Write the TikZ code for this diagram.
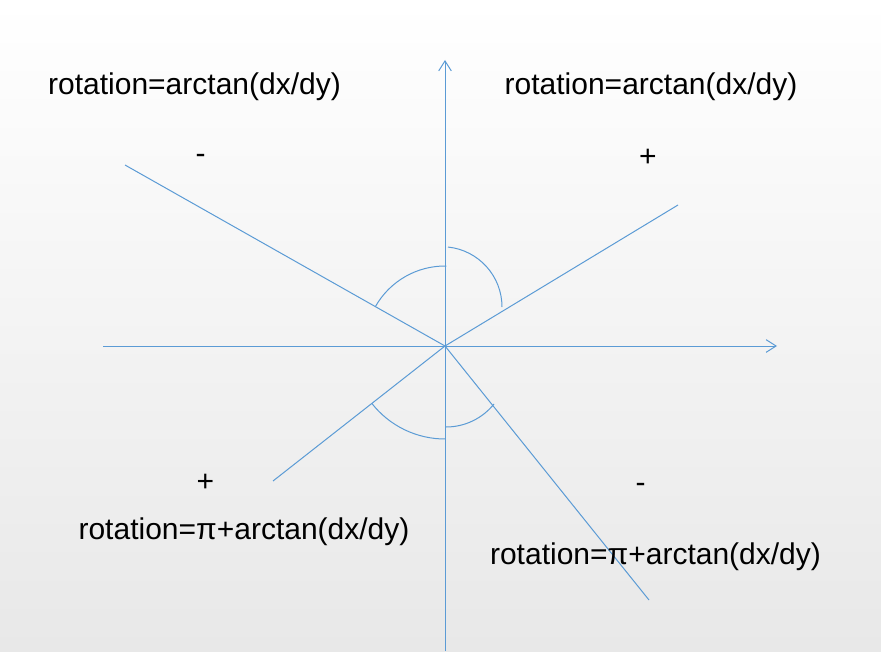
\documentclass[tikz,border=0pt]{standalone}
\usepackage{fontspec}
\setmainfont{Liberation Sans}
\usetikzlibrary{arrows.meta}
\definecolor{axisblue}{RGB}{91,155,213}
\definecolor{bggray}{RGB}{232,232,232}
\definecolor{bgtop}{RGB}{255,255,255}
\tikzset{
  axisline/.style={draw=axisblue, line width=0.75pt},
  axisarrow/.style={axisline, -{Straight Barb[length=7.5pt, width=9.5pt, line width=0.75pt]}},
  anglearc/.style={draw=axisblue, line width=0.75pt},
  formula/.style={anchor=base, inner sep=0pt, font=\fontsize{22.5}{27}\selectfont, text=black},
  sign/.style={anchor=base, inner sep=0pt, font=\fontsize{22.5}{27}\selectfont, text=black}
}
\begin{document}
\begin{tikzpicture}[x=0.75pt, y=0.75pt]
  \shade[top color=bgtop, bottom color=bggray] (0,0) rectangle (881,651);
  \useasboundingbox (0,0) rectangle (881,651);

  % coordinates
  \coordinate (O) at (445,305);
  \coordinate (H1) at (103,305);
  \coordinate (H2) at (777,305);
  \coordinate (V1) at (445,0);
  \coordinate (V2) at (445,591);
  \coordinate (A) at (125,486);
  \coordinate (B) at (678,446);
  \coordinate (C) at (273,170);
  \coordinate (D) at (649,51);

  % axes
  \draw[axisarrow] (H1) -- (H2);
  \draw[axisarrow] (V1) -- (V2);

  % lines through origin
  \draw[axisline] (A) -- (O);
  \draw[axisline] (O) -- (B);
  \draw[axisline] (C) -- (O);
  \draw[axisline] (O) -- (D);

  % angle arcs
  \draw[anglearc] (O) ++(150.5:80) arc[start angle=150.5, end angle=89, radius=80];
  \coordinate (URc) at (441.7,344);
  \draw[anglearc] (URc) ++(84:60.3) arc[start angle=84, end angle=0, radius=60.3];
  \draw[anglearc] (O) ++(218.1:93) arc[start angle=218.1, end angle=270.5, radius=93];
  \coordinate (LRc) at (446,285.6);
  \draw[anglearc] (LRc) ++(270:61.6) arc[start angle=270, end angle=321.2, radius=61.6];

  % formulas
  \node[formula] (tUL) at (194.5,556.5) {rotation=arctan(dx/dy)};
  \node[formula] (tUR) at (651,556.5) {rotation=arctan(dx/dy)};
  \node[formula] (tLL) at (244,112) {rotation=π+arctan(dx/dy)};
  \node[formula] (tLR) at (655.5,87) {rotation=π+arctan(dx/dy)};

  % signs
  \node[sign] (sUL) at (200.5,487.7) {-};
  \node[sign] (sUR) at (648,484.4) {+};
  \node[sign] (sLL) at (205.5,159.4) {+};
  \node[sign] (sLR) at (640.5,158.7) {-};
\end{tikzpicture}
\end{document}
